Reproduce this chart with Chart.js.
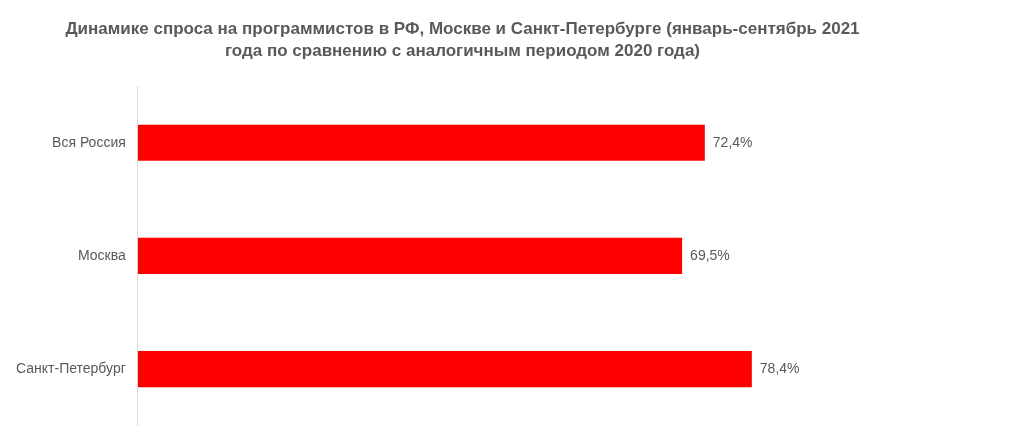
<!DOCTYPE html>
<html>
<head>
<meta charset="utf-8">
<script src="https://cdn.jsdelivr.net/npm/chart.js@4/dist/chart.umd.min.js"></script>
<style>
  html, body { margin:0; padding:0; background:#fff; }
  #wrap { width:1023px; height:446px; }
</style>
</head>
<body>
<div id="wrap"><canvas id="chart" width="1023" height="446"></canvas></div>
<script>
const regions = ["Вся Россия", "Москва", "Санкт-Петербург"];
const growth = [72.4, 69.5, 78.4];

const FONT = "'Liberation Sans Narrow', 'Arial Narrow', 'Liberation Sans', Arial, sans-serif";

// value labels to the right of each bar
const barLabels = {
    id: 'barLabels',
    afterDatasetsDraw(chart) {
        const ctx = chart.ctx;
        ctx.save();
        ctx.font = "14px " + FONT;
        ctx.fillStyle = "#595959";
        ctx.textBaseline = "middle";
        chart.getDatasetMeta(0).data.forEach((bar, i) => {
            ctx.fillText(growth[i].toFixed(1).replace('.', ',') + "%", bar.x + 8, bar.y);
        });
        ctx.restore();
    }
};

new Chart(document.getElementById("chart"), {
    type: 'bar',
    data: {
        labels: regions,
        datasets: [{
            data: growth,
            backgroundColor: '#ff0000',
            categoryPercentage: 1,
            barPercentage: 0.32
        }]
    },
    options: {
        indexAxis: 'y',
        responsive: false,
        animation: false,
        layout: { padding: { left: 4, right: 102, top: 4, bottom: 20 } },
        plugins: {
            legend: { display: false },
            tooltip: { enabled: false },
            title: {
                display: true,
                text: ["Динамике спроса на программистов в РФ, Москве и Санкт-Петербурге (январь-сентябрь 2021",
                       "года по сравнению с аналогичным периодом 2020 года)"],
                color: '#595959',
                font: { family: FONT, size: 17, weight: 'bold', lineHeight: 1.3 },
                padding: { top: 14, bottom: 24 }
            }
        },
        scales: {
            x: {
                min: 0, max: 100,
                display: false
            },
            y: {
                grid: { display: false, drawTicks: false },
                border: { display: true, color: '#d9d9d9', width: 1 },
                ticks: {
                    color: '#595959',
                    font: { family: FONT, size: 14 },
                    padding: 12
                }
            }
        }
    },
    plugins: [barLabels]
});
</script>
</body>
</html>
